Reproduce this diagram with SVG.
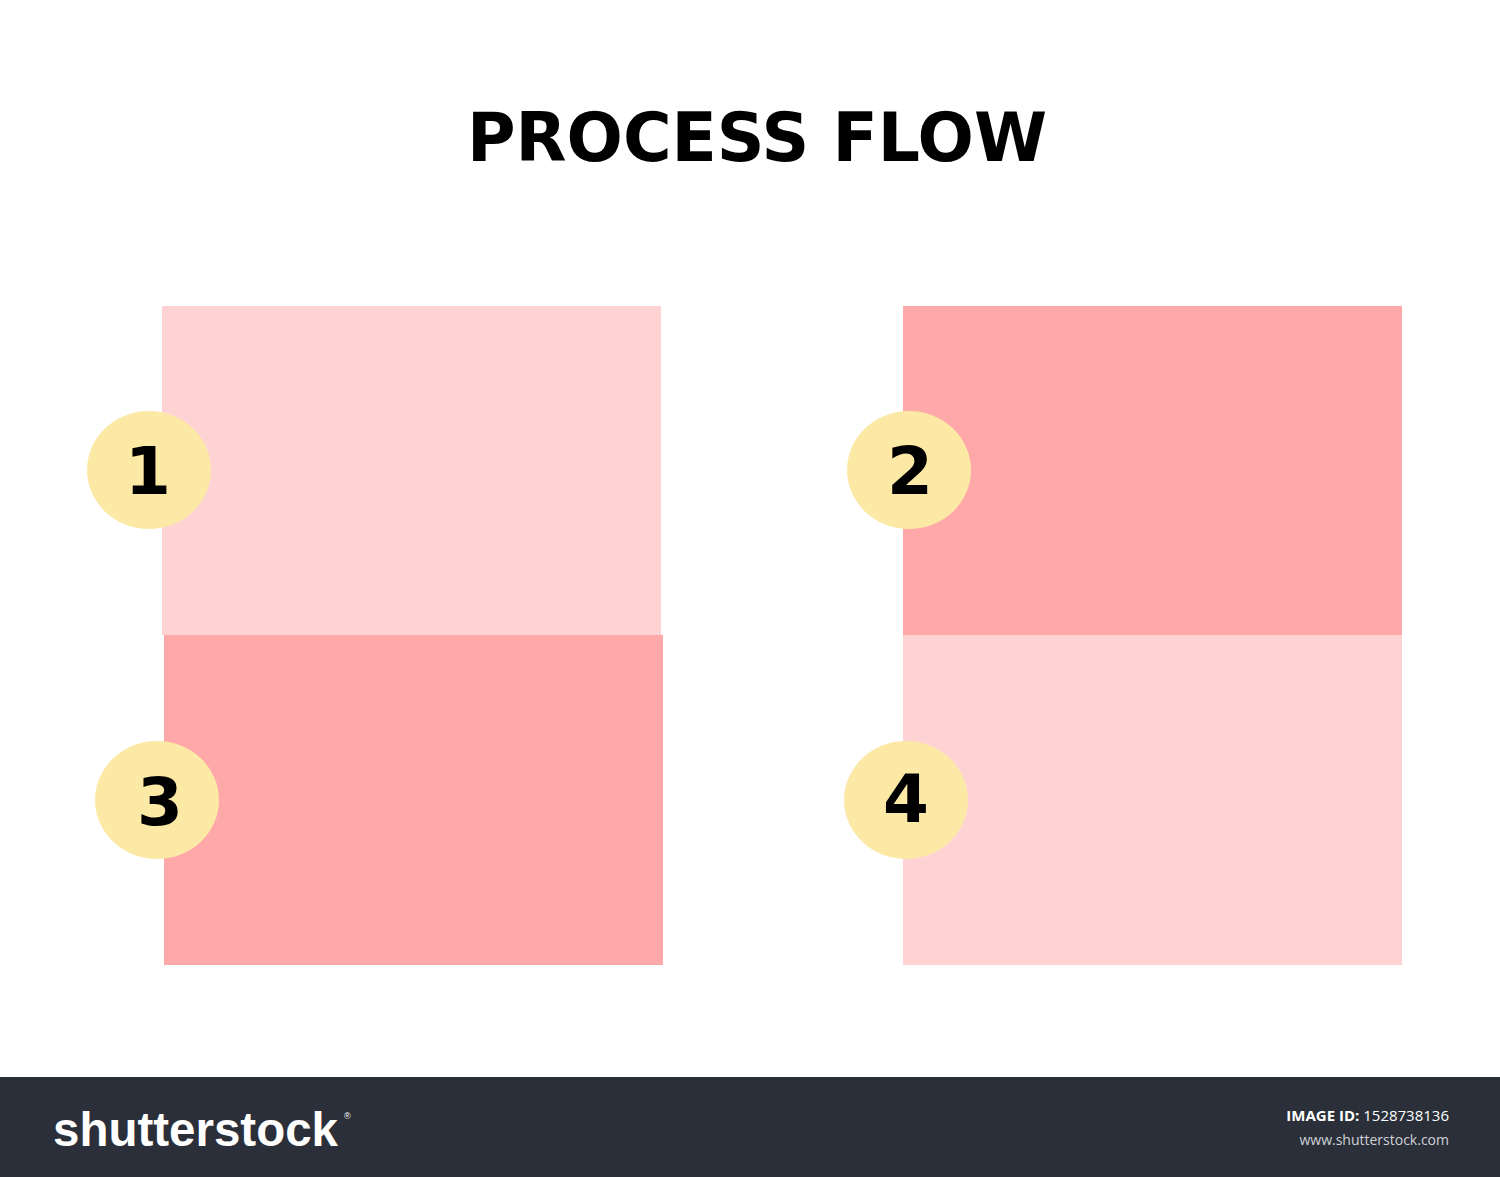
<svg xmlns="http://www.w3.org/2000/svg" width="1500" height="1177" viewBox="0 0 1500 1177">
  <style>
    .light { fill: #FFD3D4; }
    .dark { fill: #FFA8AA; }
    .badge { fill: #FDE9A6; }
    .num { font-family: "DejaVu Sans", "Liberation Sans", sans-serif; font-weight: bold; font-size: 66px; fill: #000; text-anchor: middle; }
    .title { font-family: "DejaVu Sans", "Liberation Sans", sans-serif; font-weight: bold; font-size: 67px; fill: #000; }
  </style>
  <rect width="1500" height="1177" fill="#FFFFFF"/>
  <text class="title" x="467" y="161" textLength="580" lengthAdjust="spacingAndGlyphs">PROCESS FLOW</text>
  <g id="connectors"></g>
  <g id="node-1">
    <rect class="light" x="162" y="306" width="499" height="329"/>
    <ellipse class="badge" cx="149" cy="470" rx="62" ry="59"/>
    <text class="num" x="148" y="494">1</text>
  </g>
  <g id="node-3">
    <rect class="dark" x="164" y="635" width="499" height="330"/>
    <ellipse class="badge" cx="157" cy="800" rx="62" ry="59"/>
    <text class="num" x="160" y="825">3</text>
  </g>
  <g id="node-2">
    <rect class="dark" x="903" y="306" width="499" height="329"/>
    <ellipse class="badge" cx="909" cy="470" rx="62" ry="59"/>
    <text class="num" x="910" y="494">2</text>
  </g>
  <g id="node-4">
    <rect class="light" x="903" y="635" width="499" height="330"/>
    <ellipse class="badge" cx="906" cy="800" rx="62" ry="59"/>
    <text class="num" x="906" y="822">4</text>
  </g>
  <g id="footer">
    <rect x="0" y="1077" width="1500" height="100" fill="#2A2F39"/>
    <text x="53" y="1146" font-family="'Liberation Sans', sans-serif" font-weight="bold" font-size="48" fill="#FFFFFF" textLength="285" lengthAdjust="spacingAndGlyphs">shutterstock</text>
    <text x="344" y="1119" font-family="'Liberation Sans', sans-serif" font-size="9" fill="#FFFFFF">®</text>
    <text x="1449" y="1121" font-family="'Open Sans', 'Liberation Sans', sans-serif" font-size="15" fill="#FFFFFF" text-anchor="end"><tspan font-weight="bold">IMAGE ID:</tspan> 1528738136</text>
    <text x="1449" y="1145" font-family="'Open Sans', 'Liberation Sans', sans-serif" font-size="14" fill="#D0D2D6" text-anchor="end">www.shutterstock.com</text>
  </g>
</svg>
